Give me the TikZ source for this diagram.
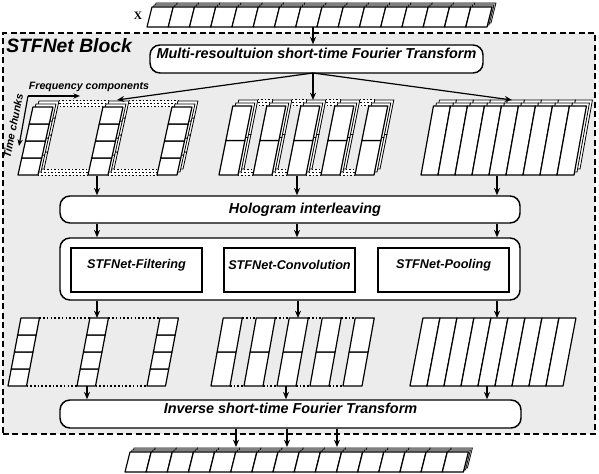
\documentclass[tikz,border=0pt]{standalone}
\usepackage{fontspec}
\setmainfont{Liberation Sans}
\newfontfamily\xserif{Liberation Serif}
\usetikzlibrary{arrows.meta,fit}
\newcommand{\gridp}[8]{%
 \foreach \ii in {1,...,#6}{%
  \foreach \jj in {1,...,#7}{%
   \draw[#8] ({#1+(\ii-1)*#3+#5*(\jj-1)*#4},{#2-(\jj-1)*#4}) -- ++(#3,0) -- ++({#5*#4},{-#4}) -- ++({-#3},0) -- cycle;
  }}}
\newcommand{\layered}[9]{%
 \gridp{#1+2*#9}{#2-2*#9}{#3}{#4}{#5}{#6}{#7}{#8}%
 \gridp{#1+#9}{#2-#9}{#3}{#4}{#5}{#6}{#7}{#8}%
 \gridp{#1}{#2}{#3}{#4}{#5}{#6}{#7}{cell}}
\begin{document}
\begin{tikzpicture}[x=0.75pt,y=-0.75pt,
  cell/.style={draw, fill=white, line width=0.9pt, line join=round},
  backc/.style={draw, fill=white, line width=0.6pt},
  backg/.style={draw, fill=gray!45, line width=0.5pt},
  rbox/.style={draw, fill=white, rounded corners=7.5pt, line width=1.1pt, inner sep=0pt},
  sbox/.style={draw, fill=white, line width=1.1pt, inner sep=0pt},
  arr/.style={-{Stealth[length=5.5pt,width=4.5pt]}, line width=0.9pt},
  chk/.style={line width=0.75pt, dash pattern=on 1.1pt off 1.5pt},
  dotl/.style={line width=0.8pt, dash pattern=on 1.2pt off 1.6pt},
  fbig/.style={font=\fontsize{10.8}{13}\selectfont\bfseries\itshape},
  fmid/.style={font=\fontsize{9.5}{11}\selectfont\bfseries\itshape},
  fsmall/.style={font=\fontsize{8}{10}\selectfont\bfseries\itshape}]
\useasboundingbox (0,0) rectangle (599,474);
% block
\node[draw, fill=gray!15, line width=1.5pt, dash pattern=on 4.5pt off 2.6pt, inner sep=0pt, fit={(3,33) (595,434)}] (blk) {};
\node[anchor=west, font=\fontsize{14.5}{16}\selectfont\bfseries\itshape, inner sep=0pt] (title) at (6,46) {STFNet Block};
% input strip
\layered{147}{27}{21.25}{20}{0.25}{16}{1}{backg}{2}
\node[font=\xserif\fontsize{8.5}{10}\selectfont\bfseries, inner sep=0pt] (xl) at (138,16) {X};
\coordinate (xin) at (313,27);
% MR-STFT
\node[rbox, fbig, fit={(150,45) (483,73)}] (mr) {Multi-resoultuion short-time Fourier Transform};
\coordinate (mrs) at (313,73);
% axes
\coordinate (ax0) at (28,96);
\coordinate (axf) at (80,96);
\coordinate (axt) at (19,146);
\node[fsmall, inner sep=0pt] (freq) at (89,87) {Frequency components};
\node[fsmall, inner sep=0pt, rotate=78.5] (time) at (13,126) {Time chunks};
% STFT group 1
\foreach \a/\b in {18/88, 88/157} {
  \fill[white] ({\a+35},107) -- ({\b+15},107) -- ({\b+21},101) -- ({\a+41},101) -- cycle;
  \fill[white] ({\a+20},175) -- (\b,175) -- ({\b+6},169) -- ({\a+26},169) -- cycle;
  \foreach \d in {6,3,0} {
  \draw[chk] ({\a+35+\d},{107-\d}) -- ({\b+15+\d},{107-\d});
  \draw[chk] ({\a+20+\d},{175-\d}) -- ({\b+\d},{175-\d});
}}
\foreach \x in {18,88,157} { \layered{\x}{175}{20}{17}{0.22}{1}{4}{backc}{3} }
% STFT group 2
\foreach \a/\b in {219/253, 253/287, 287/321, 321/355} {
  \fill[white] ({\a+32.8},106) -- ({\b+13.8},106) -- ({\b+19.8},100) -- ({\a+38.8},100) -- cycle;
  \fill[white] ({\a+19},175) -- (\b,175) -- ({\b+6},169) -- ({\a+25},169) -- cycle;
  \foreach \d in {6,3,0} {
  \draw[chk] ({\a+32.8+\d},{106-\d}) -- ({\b+13.8+\d},{106-\d});
  \draw[chk] ({\a+19+\d},{175-\d}) -- ({\b+\d},{175-\d});
}}
\foreach \x in {219,253,287,321,355} { \layered{\x}{175}{19}{34.5}{0.2}{1}{2}{backc}{3} }
% STFT group 3
\layered{421}{175}{17}{69}{0.18}{9}{1}{backc}{3}
\coordinate (g1t) at (117,100);
\coordinate (g2t) at (313,100);
\coordinate (g3t) at (512,100);
\coordinate (g1b) at (97,176);
\coordinate (g2b) at (297,176);
\coordinate (g3b) at (497,176);
% hologram
\node[rbox, fit={(60,196) (520,223)}] (holo) {};
\node[fbig, inner sep=0pt] (holol) at (305,209.5) {Hologram interleaving};
% processing
\node[rbox, fit={(60,238) (520,300)}] (proc) {};
\node[sbox, fmid, fit={(71,248) (202,292)}] (filt) {STFNet-Filtering};
\node[sbox, fmid, fit={(224,248) (355,292)}] (conv) {STFNet-Convolution};
\node[sbox, fmid, fit={(378,248) (509,292)}] (pool) {STFNet-Pooling};
% output groups
\foreach \a/\b in {8/77, 77/147} {
  \draw[dotl] ({\a+31.4},318) -- ({\b+12.9},318);
  \draw[dotl] ({\a+18.5},386) -- (\b,386);
}
\foreach \x in {8,77,147} { \gridp{\x}{386}{18.5}{17}{0.19}{1}{4}{cell} }
\foreach \a/\b in {211/244, 244/277, 277/310, 310/343} {
  \draw[dotl] ({\a+31.2},318) -- ({\b+12.2},318);
  \draw[dotl] ({\a+19},386) -- (\b,386);
}
\foreach \x in {211,244,277,310,343} { \gridp{\x}{386}{19}{34}{0.18}{1}{2}{cell} }
\gridp{410}{386}{17}{68}{0.19}{9}{1}{cell}
\coordinate (o1t) at (97,318);
\coordinate (o2t) at (298,318);
\coordinate (o3t) at (497,318);
\coordinate (o1b) at (87,386);
\coordinate (o2b) at (286,386);
\coordinate (o3b) at (487,386);
% IFT
\node[rbox, fbig, fit={(60,400) (521,428)}] (ift) {Inverse short-time Fourier Transform};
% output strip
\layered{125}{472}{21.15}{20}{0.25}{16}{1}{backg}{2}
\coordinate (s1) at (236,447);
\coordinate (s2) at (287,447);
\coordinate (s3) at (337,447);
% arrows
\draw[arr] (xin) -- (xin |- mr.north);
\draw[line width=0.9pt, -{Stealth[length=5pt,width=4pt]}] (ax0) -- (axf);
\draw[line width=0.9pt, -{Stealth[length=5pt,width=4pt]}] (ax0) -- (axt);
\draw[arr] (mrs) -- (g1t);
\draw[arr] (mrs) -- (g2t);
\draw[arr] (mrs) -- (g3t);
\draw[arr] (g1b) -- (g1b |- holo.north);
\draw[arr] (g2b) -- (g2b |- holo.north);
\draw[arr] (g3b) -- (g3b |- holo.north);
\draw[arr] (g1b |- holo.south) -- (g1b |- proc.north);
\draw[arr] (g2b |- holo.south) -- (g2b |- proc.north);
\draw[arr] (g3b |- holo.south) -- (g3b |- proc.north);
\draw[arr] (o1t |- proc.south) -- (o1t);
\draw[arr] (o2t |- proc.south) -- (o2t);
\draw[arr] (o3t |- proc.south) -- (o3t);
\draw[arr] (o1b) -- (o1b |- ift.north);
\draw[arr] (o2b) -- (o2b |- ift.north);
\draw[arr] (o3b) -- (o3b |- ift.north);
\draw[arr] (s1 |- ift.south) -- (s1);
\draw[arr] (s2 |- ift.south) -- (s2);
\draw[arr] (s3 |- ift.south) -- (s3);
\end{tikzpicture}
\end{document}
